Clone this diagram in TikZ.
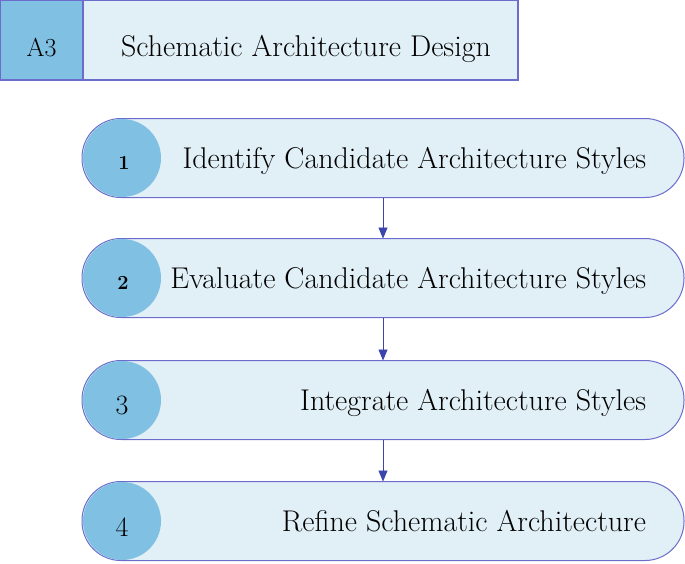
\documentclass[tikz,border=0pt]{standalone}
\usepackage{fontspec}
\usetikzlibrary{arrows.meta}
\definecolor{edgeblue}{HTML}{6C6CCC}
\definecolor{lightfill}{HTML}{E1EFF6}
\definecolor{midblue}{HTML}{80C0E2}
\definecolor{arrowblue}{HTML}{3A46AA}
\tikzset{
  every node/.style={inner sep=0pt, outer sep=0pt},
  headcell/.style={draw=edgeblue, line width=1.2pt, minimum height=80pt},
  pill/.style={draw=edgeblue, fill=lightfill, line width=1pt, rounded corners=39pt,
    minimum width=602pt, minimum height=79pt},
  numdisc/.style={circle, fill=midblue, minimum size=78pt},
  numsmall/.style={anchor=base, font=\bfseries\fontsize{20}{22}\selectfont},
  numlarge/.style={anchor=base, font=\fontsize{28}{30}\selectfont},
  steptext/.style={anchor=base east, font=\fontsize{30}{32}\selectfont},
  flow/.style={draw=arrowblue, line width=0.9pt, -{Triangle[length=11pt,width=9pt]}}
}
\begin{document}
\begin{tikzpicture}[x=1pt,y=-1pt]
\useasboundingbox (0,0) rectangle (685,563);
% header
\node[headcell, fill=midblue, minimum width=83pt] (hl) at (41.5,40) {};
\node[headcell, fill=lightfill, minimum width=435pt] (hr) at (300.5,40) {};
\node[anchor=base, font=\fontsize{26}{28}\selectfont] (hlt) at (41.5,56) {A3};
\node[anchor=base, font=\fontsize{30}{32}\selectfont] (hrt) at (306,56) {Schematic Architecture Design};
% pills
\foreach \i/\y in {1/158,2/278,3/400,4/521}{
  \node[pill] (p\i) at (383,\y) {};
  \node[numdisc] (c\i) at (122,\y) {};
}
\node[numsmall] (n1) at (124,169) {1};
\node[numsmall] (n2) at (123,289) {2};
\node[numlarge] (n3) at (122,414) {3};
\node[numlarge] (n4) at (122,536) {4};
\node[steptext] (t1) at (646,168) {Identify Candidate Architecture Styles};
\node[steptext] (t2) at (646,288) {Evaluate Candidate Architecture Styles};
\node[steptext] (t3) at (646,410) {Integrate Architecture Styles};
\node[steptext] (t4) at (646,531) {Refine Schematic Architecture};
% arrows
\draw[flow] (p1.south) -- (p2.north);
\draw[flow] (p2.south) -- (p3.north);
\draw[flow] (p3.south) -- (p4.north);
\end{tikzpicture}
\end{document}
